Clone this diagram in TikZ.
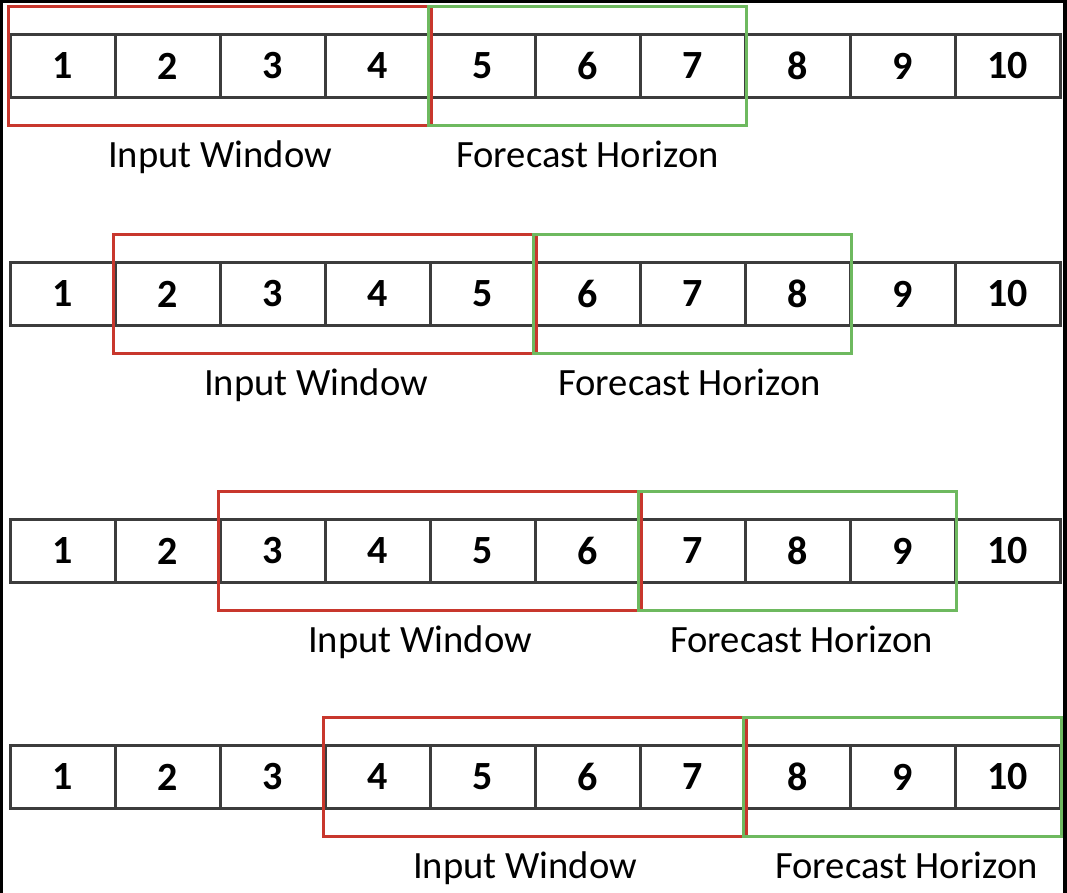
\documentclass[tikz,border=0pt]{standalone}
\usepackage{fontspec}
\setmainfont{Carlito}
\usetikzlibrary{positioning, calc, fit}

\definecolor{cellgray}{RGB}{60,60,60}
\definecolor{winred}{RGB}{200,55,45}
\definecolor{hzngreen}{RGB}{110,185,95}

\begin{document}
\begin{tikzpicture}[
    x=0.5pt, y=0.5pt,
    cell/.style={
        rectangle, draw=cellgray, line width=1.5pt,
        minimum width=52.5pt, minimum height=31.5pt, inner sep=0pt,
        font=\fontsize{20}{24}\selectfont\bfseries
    },
    inwin/.style={
        rectangle, draw=winred, line width=1.5pt,
        inner xsep=0pt, inner ysep=13.25pt
    },
    hzn/.style={
        rectangle, draw=hzngreen, line width=1.5pt,
        inner xsep=0pt, inner ysep=13.25pt
    },
    lbl/.style={font=\fontsize{19.3}{23}\selectfont, anchor=base, inner sep=0pt},
]

% Frame
\fill[black] (0,0) rectangle (1067,893);
\fill[white] (3,0) rectangle (1063,890);
\useasboundingbox (0,0) rectangle (1067,893);

% Time steps, four rows of ten
\foreach \r/\y in {a/827, b/599, c/342, d/116} {
    \foreach \i in {1,...,10} {
        \node[cell] (\r\i) at ({62.5+105*(\i-1)}, \y) {\i};
    }
}

% Row a : 1-4 -> 5-7
\node[inwin, fit=(a1)(a4)] (ina) {};
\node[hzn, fit=(a5)(a7)] (hza) {};
\node[lbl] (lina) at ($(ina.south)+(0,-41)$) {Input Window};
\node[lbl] (lhza) at ($(hza.south)+(0,-41)$) {Forecast Horizon};

% Row b : 2-5 -> 6-8
\node[inwin, fit=(b2)(b5)] (inb) {};
\node[hzn, fit=(b6)(b8)] (hzb) {};
\node[lbl] (linb) at ($(inb.south)+(-9,-41)$) {Input Window};
\node[lbl] (lhzb) at ($(hzb.south)+(-3,-41)$) {Forecast Horizon};

% Row c : 3-6 -> 7-9
\node[inwin, fit=(c3)(c6)] (inc) {};
\node[hzn, fit=(c7)(c9)] (hzc) {};
\node[lbl] (linc) at ($(inc.south)+(-10,-41)$) {Input Window};
\node[lbl] (lhzc) at ($(hzc.south)+(4,-41)$) {Forecast Horizon};

% Row d : 4-7 -> 8-10
\node[inwin, fit=(d4)(d7)] (ind) {};
\node[hzn, fit=(d8)(d10)] (hzd) {};
\node[lbl] (lind) at ($(ind.south)+(-10,-41)$) {Input Window};
\node[lbl] (lhzd) at ($(hzd.south)+(4,-41)$) {Forecast Horizon};

\end{tikzpicture}
\end{document}
